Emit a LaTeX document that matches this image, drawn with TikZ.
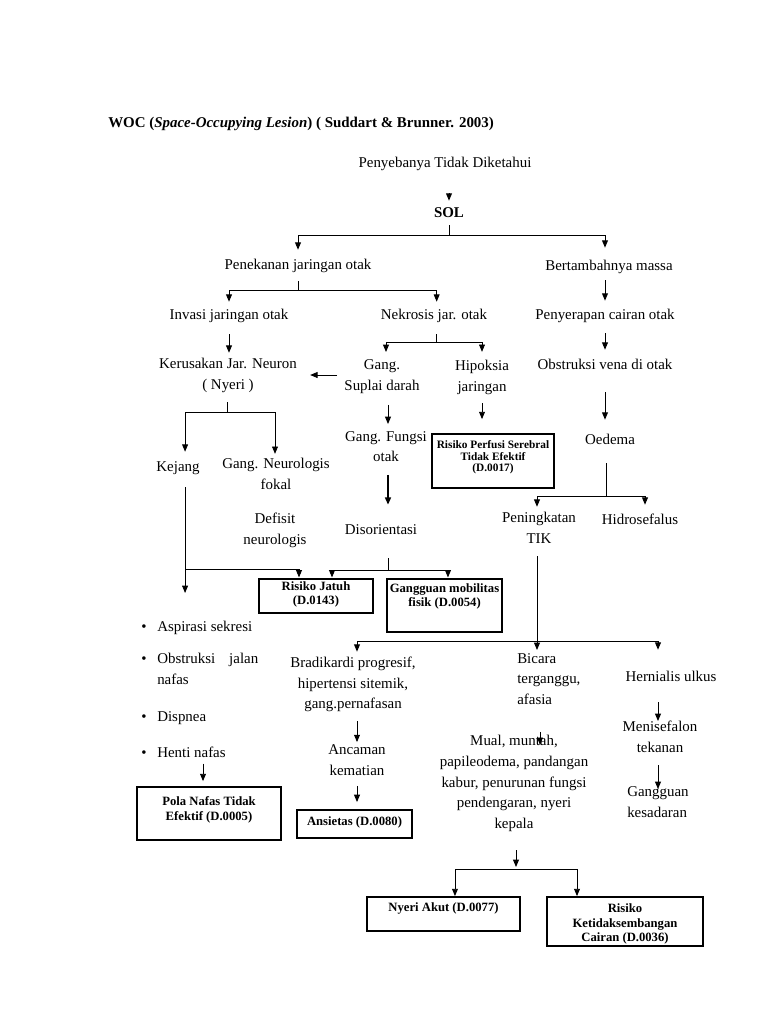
\documentclass[tikz,border=0pt]{standalone}
\usepackage{fontspec}
\setmainfont{Liberation Serif}
\usetikzlibrary{arrows.meta,calc}
\newcommand{\bxt}[5]{\begin{minipage}[c][#2][t]{#1}\centering\vspace*{#3}#4\strut #5\end{minipage}}
\begin{document}
\begin{tikzpicture}[x=0.75pt,y=-0.75pt,
  txt/.style={font=\fontsize{11.2}{15.5}\selectfont, inner sep=0pt, align=center,
    execute at begin node=\strut, execute at end node=\strut},
  btxt/.style={txt, font=\bfseries\fontsize{11.2}{15.5}\selectfont},
  ltxt/.style={txt, align=left, anchor=west},
  box/.style={draw, line width=1.3pt, inner sep=0pt},
  ln/.style={line width=0.7pt},
  arr/.style={ln, -{Triangle[length=5.5pt,width=4.4pt]}}]
\useasboundingbox (0,0) rectangle (768,1024);
\fill[white] (0,0) rectangle (768,1024);
% levels
\coordinate (y235) at (0,235);
\coordinate (y290) at (0,290);
\coordinate (y342) at (0,342);
\coordinate (y412) at (0,412);
\coordinate (y496) at (0,496);
\coordinate (y569) at (0,569);
\coordinate (y570) at (0,570);
\coordinate (y593) at (0,593);
\coordinate (y641) at (0,641);
\coordinate (y869) at (0,869);
% title
\node[btxt, anchor=west] (title) at (108,123) {WOC (\textit{Space-Occupying Lesion}) ( Suddart \& Brunner. 2003)};
% nodes
\node[txt] (cause) at (445,163) {Penyebanya Tidak Diketahui};
\node[btxt] (sol) at (449,213) {SOL};
\node[txt] (pen) at (298,265) {Penekanan jaringan otak};
\node[txt] (ber) at (609,266) {Bertambahnya massa};
\node[txt] (inv) at (229,315) {Invasi jaringan otak};
\node[txt] (nek) at (434,315) {Nekrosis jar. otak};
\node[txt] (pcr) at (605,315) {Penyerapan cairan otak};
\node[txt] (ker) at (228,377) {Kerusakan Jar. Neuron\\( Nyeri )};
\node[txt] (gsd) at (382,378) {Gang.\\Suplai darah};
\node[txt] (hip) at (482,379) {Hipoksia\\jaringan};
\node[txt] (obs) at (605,365) {Obstruksi vena di otak};
\node[txt] (gfo) at (386,449.5) {Gang. Fungsi\\otak};
\node[box] (rpse) at (493,461) {\bxt{91.5pt}{40.5pt}{5.2pt}{\bfseries\fontsize{8.5}{8.6}\selectfont}{Risiko Perfusi Serebral\\Tidak Efektif\\(D.0017)}};
\node[txt] (oed) at (610,440) {Oedema};
\node[txt] (kej) at (178,467) {Kejang};
\node[txt] (gnf) at (276,477) {Gang. Neurologis\\fokal};
\node[txt] (def) at (275,532) {Defisit\\neurologis};
\node[txt] (dis) at (381,530) {Disorientasi};
\node[txt] (tik) at (539,531) {Peningkatan\\TIK};
\node[txt] (hid) at (640,520) {Hidrosefalus};
\node[box] (rjat) at (316,596) {\bxt{85.5pt}{25.5pt}{1.6pt}{\bfseries\fontsize{9.5}{10.5}\selectfont}{Risiko Jatuh\\(D.0143)}};
\node[box] (gmf) at (444.5,605.5) {\bxt{86.25pt}{39.75pt}{2.4pt}{\bfseries\fontsize{9.5}{10.5}\selectfont}{Gangguan mobilitas\\fisik (D.0054)}};
\node[ltxt] (b1) at (141,627) {\makebox[12pt][l]{\textbullet}Aspirasi sekresi};
\node[ltxt] (b2) at (141,672) {\makebox[12pt][l]{\textbullet}\makebox[75.75pt][s]{Obstruksi\hfill jalan}\\\hspace*{12pt}nafas};
\node[ltxt] (b3) at (141,717) {\makebox[12pt][l]{\textbullet}Dispnea};
\node[ltxt] (b4) at (141,753) {\makebox[12pt][l]{\textbullet}Henti nafas};
\node[box] (pola) at (209,813.5) {\bxt{108pt}{39.75pt}{6.3pt}{\bfseries\fontsize{9.5}{11.25}\selectfont}{Pola Nafas Tidak\\Efektif (D.0005)}};
\node[txt] (brad) at (353,686) {Bradikardi progresif,\\hipertensi sitemik,\\gang.pernafasan};
\node[txt] (anc) at (357,763) {Ancaman\\kematian};
\node[box] (ans) at (354.5,824) {\bxt{86.25pt}{21pt}{4.5pt}{\bfseries\fontsize{9.5}{10.5}\selectfont}{Ansietas (D.0080)}};
\node[ltxt] (bic) at (517,682) {Bicara\\terganggu,\\afasia};
\node[txt] (her) at (671,677) {Hernialis ulkus};
\node[txt] (men) at (660,740) {Menisefalon\\tekanan};
\node[ltxt] (gkes) at (627,805) {Gangguan\\kesadaran};
\node[txt] (mual) at (514,785) {Mual, muntah,\\papileodema, pandangan\\kabur, penurunan fungsi\\pendengaran, nyeri\\kepala};
\node[box] (nyeri) at (443.5,914) {\bxt{114.75pt}{25.5pt}{3.2pt}{\bfseries\fontsize{9.5}{10.5}\selectfont}{Nyeri Akut (D.0077)}};
\node[box] (rkc) at (625,921.5) {\bxt{117pt}{36.75pt}{4.2pt}{\bfseries\fontsize{9.5}{10.9}\selectfont}{Risiko\\Ketidaksembangan\\Cairan (D.0036)}};
% connectors
\draw[arr, shorten <=14.8pt, shorten >=1.3pt] (sol.north |- cause.south) -- (sol.north);
\coordinate (j1) at (sol.south |- y235);
\draw[ln, shorten <=1.3pt] (sol.south) -- (j1);
\draw[arr, shorten >=3.5pt] (j1) -| (pen.north);
\draw[arr, shorten >=5.8pt] (j1) -| ([xshift=-3pt]ber.north);
\coordinate (j2) at (pen.south |- y290);
\draw[ln, shorten <=4.3pt] (pen.south) -- (j2);
\draw[arr, shorten >=2pt] (j2) -| (inv.north);
\draw[arr, shorten >=2pt] (j2) -| ([xshift=2pt]nek.north);
\coordinate (berS) at ([xshift=-3pt]ber.south);
\draw[arr, shorten <=2.8pt, shorten >=2.8pt] (berS) -- (berS |- pcr.north);
\draw[arr, shorten <=6.5pt, shorten >=4pt] (inv.south) -- (inv.south |- ker.north);
\coordinate (nekS) at ([xshift=1.5pt]nek.south);
\coordinate (j3) at (nekS |- y342);
\draw[ln, shorten <=6.5pt] (nekS) -- (j3);
\draw[arr, shorten >=5.5pt] (j3) -| ([xshift=3pt]gsd.north);
\draw[arr, shorten >=6.2pt] (j3) -| (hip.north);
\coordinate (gsdW) at ([yshift=2.25pt]gsd.west);
\draw[arr, shorten <=5.3pt, shorten >=9.8pt] (gsdW) -- (gsdW -| ker.east);
\coordinate (pcrS) at (pcr.south);
\draw[arr, shorten <=5.8pt, shorten >=3.5pt] (pcrS) -- (pcrS |- obs.north);
\coordinate (kerS) at ([xshift=-0.75pt]ker.south);
\coordinate (j4) at (kerS |- y412);
\draw[ln, shorten <=4.7pt] (kerS) -- (j4);
\draw[arr, shorten >=3.5pt] (j4) -| ([xshift=5.3pt]kej.north);
\draw[arr, shorten >=3.2pt] (j4) -| ([xshift=-0.75pt]gnf.north);
\coordinate (gfoN) at ([xshift=1.5pt]gfo.north);
\draw[arr, shorten <=6.2pt, shorten >=5.1pt] (gfoN |- gsd.south) -- (gfoN);
\draw[arr, shorten <=4pt, shorten >=10.5pt] (hip.south) -- (hip.south |- rpse.north);
\coordinate (obsS) at (obs.south);
\draw[arr, shorten <=12.5pt, shorten >=7.3pt] (obsS) -- (obsS |- oed.north);
\coordinate (gfoS) at ([xshift=1.5pt]gfo.south);
\draw[arr, line width=1.5pt, shorten <=5.1pt, shorten >=11pt] (gfoS) -- (gfoS |- dis.north);
\coordinate (oedS) at ([xshift=-3pt]oed.south);
\coordinate (j5) at (oedS |- y496);
\draw[ln, shorten <=9.5pt] (oedS) -- (j5);
\draw[arr, shorten >=4pt] (j5) -| ([xshift=-1.5pt]tik.north);
\draw[arr, shorten >=3.5pt] (j5) -| ([xshift=3.75pt]hid.north);
\coordinate (kejS) at ([xshift=5.3pt]kej.south);
\coordinate (kejend) at (kejS |- y593);
\draw[arr, shorten <=7.3pt] (kejS) -- (kejend);
\coordinate (j6) at (kejS |- y569);
\draw[arr, shorten >=0.5pt] (j6) -| ([xshift=-12.75pt]rjat.north);
\coordinate (j7) at (gfoS |- y570);
\draw[ln, shorten <=13.3pt] (dis.south -| j7) -- (j7);
\draw[arr, shorten >=0.5pt] (j7) -| ([xshift=12pt]rjat.north);
\draw[arr, shorten >=0.5pt] (j7) -| ([xshift=2.6pt]gmf.north);
\coordinate (tikS) at ([xshift=-1.5pt]tik.south);
\draw[arr, shorten <=4.7pt, shorten >=2.25pt] (tikS) -- (tikS |- bic.north);
\coordinate (menN) at ([xshift=-1.5pt]men.north);
\coordinate (j8l) at (anc.north |- y641);
\coordinate (j8r) at (menN |- y641);
\draw[ln] (j8l) -- (j8r);
\draw[arr, shorten >=3.75pt] (j8l) -- (j8l |- brad.north);
\draw[arr, shorten >=12.5pt] (j8r) -- (j8r |- her.north);
\draw[arr, shorten <=4.5pt, shorten >=1.7pt] (anc.north |- brad.south) -- (anc.north);
\draw[arr, shorten <=3.2pt, shorten >=5.3pt] (anc.south) -- (anc.south |- ans.north);
\draw[arr, shorten <=11pt] (menN |- her.south) -- (menN);
\coordinate (menS) at ([xshift=-1.5pt]men.south);
\draw[arr, shorten <=4.7pt, shorten >=-2pt] (menS) -- (menS |- gkes.north);
\draw[arr] ([xshift=19.5pt,yshift=2.5pt]mual.north) -- ([xshift=19.5pt,yshift=-7.3pt]mual.north);
\coordinate (polaN) at ([xshift=-4.5pt]pola.north);
\draw[arr, shorten >=3.75pt] (polaN |- b4.south) -- (polaN);
\coordinate (mualS) at ([xshift=1.5pt]mual.south);
\coordinate (j9) at (mualS |- y869);
\draw[arr, shorten <=11.5pt, shorten >=1.5pt] (mualS) -- (j9);
\draw[arr] (j9) -| ([xshift=8.6pt]nyeri.north);
\draw[arr] (j9) -| ([xshift=-36pt]rkc.north);
\end{tikzpicture}
\end{document}
